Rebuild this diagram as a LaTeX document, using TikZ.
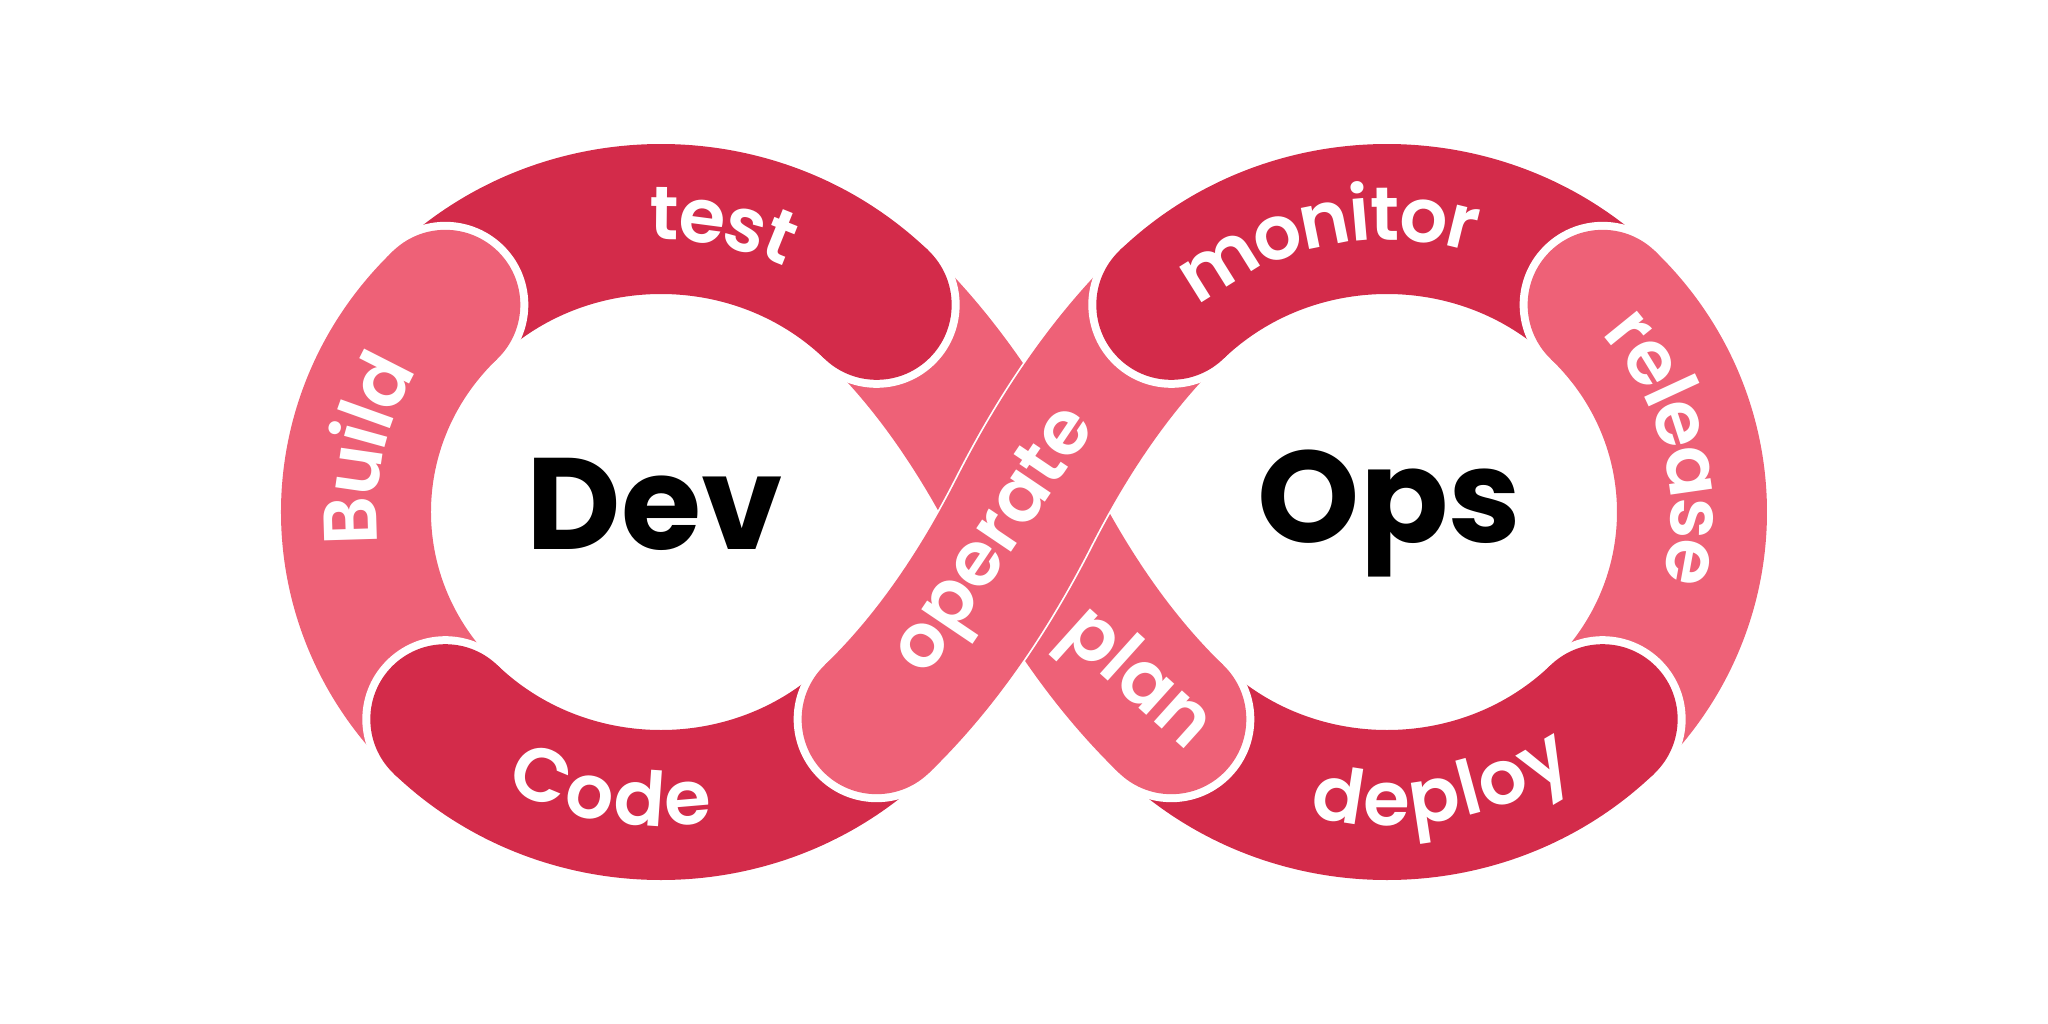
\documentclass[tikz,border=0pt]{standalone}
\usepackage{fontspec}
\setmainfont{Poppins}
\newfontfamily\lblface{Poppins SemiBold}
\usepackage{tikz}
\usetikzlibrary{decorations.text}
\definecolor{devred}{HTML}{D32B4A}
\definecolor{devpink}{HTML}{EE6177}
\newcommand{\lblfont}{\lblface\fontsize{21.5}{24}\selectfont}
% 圆头端盖: 点, 方向, 颜色
\newcommand{\loopcap}[3]{%
  \fill[white] (#1) ++(#2-90:0.83) arc[start angle=#2-90, end angle=#2+90, radius=0.83] -- cycle;
  \fill[#3] (#1) circle[radius=0.75];
}

\begin{document}
\begin{tikzpicture}[
    band/.style={line width=1.5cm, line cap=butt},
    ring/.style={x radius=3.05, y radius=2.93},
    steplabel/.style={decorate, decoration={text along path, text align=center,
        raise=-0.21cm, text color=white, text={|\lblfont|#1}}},
    bigword/.style={font=\bfseries\fontsize{37}{40}\selectfont, anchor=base, inner sep=0pt}
  ]
  \useasboundingbox (-10.24,-5.12) rectangle (10.24,5.12);
  
  % 两个环的中心
  \coordinate (L) at (-3.63,0);
  \coordinate (R) at (3.63,0);
  \coordinate (M) at (0,0);
  \foreach \a in {45,135,225,315} {
    \path (L) ++(\a:3.05 and 2.93) coordinate (L\a);
    \path (R) ++(\a:3.05 and 2.93) coordinate (R\a);
  }
  
  % 左环
  \draw[band, devred] (L135) arc[start angle=135, end angle=45, ring];
  \draw[band, devpink] (L225) arc[start angle=225, end angle=135, ring];
  \draw[band, devred] (L315) arc[start angle=315, end angle=225, ring];
  
  % 右环
  \draw[band, devred] (R45) arc[start angle=45, end angle=135, ring];
  \draw[band, devpink] (R315) arc[start angle=-45, end angle=45, ring];
  \draw[band, devred] (R225) arc[start angle=225, end angle=315, ring];
  
  % 交叉部分
  \draw[band, devpink] (L45) .. controls +(-44:0.85) and +(117:0.85) .. (M)
    .. controls +(-63:0.85) and +(136:0.85) .. (R225);
  \draw[band, white, line width=1.5cm+1pt] (R135) .. controls +(224:0.85) and +(63:0.85) .. (M)
    .. controls +(243:0.85) and +(44:0.85) .. (L315);
  \draw[band, devpink] (R135) .. controls +(224:0.85) and +(63:0.85) .. (M)
    .. controls +(243:0.85) and +(44:0.85) .. (L315);
  
  % 端盖
  \loopcap{L45}{-44}{devred}
  \loopcap{L135}{44}{devpink}
  \loopcap{L225}{136}{devred}
  \loopcap{L315}{224}{devpink}
  \loopcap{R135}{224}{devred}
  \loopcap{R45}{136}{devpink}
  \loopcap{R315}{44}{devred}
  \loopcap{R225}{-44}{devpink}
  
  % 文字
  \path[steplabel=test] (L) ++(138:3.05 and 2.93) arc[start angle=138, end angle=18, ring];
  \path[steplabel=Build] (L) ++(228:3.05 and 2.93) arc[start angle=228, end angle=108, ring];
  \path[steplabel=Code] (L) ++(200:3.05 and 2.93) arc[start angle=200, end angle=320, ring];
  \path[steplabel=monitor] (R) ++(162:3.05 and 2.93) arc[start angle=162, end angle=42, ring];
  \path[steplabel=release] (R) ++(73:3.05 and 2.93) arc[start angle=73, end angle=-47, ring];
  \path[steplabel=deploy] (R) ++(221:3.05 and 2.93) arc[start angle=221, end angle=341, ring];
  \node[text=white, font=\lblfont, rotate=56] (operate) at (-0.26,-0.31) {operate};
  \node[text=white, font=\lblfont, rotate=-42] (plan) at (1.11,-1.69) {plan};
  
  \node[bigword] (dev) at (-3.69,-0.37) {Dev};
  \node[bigword] (ops) at (3.655,-0.30) {Ops};
\end{tikzpicture}
\end{document}
